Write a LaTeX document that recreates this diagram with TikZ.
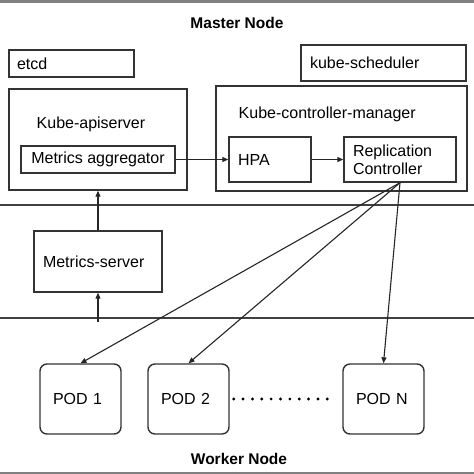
\documentclass[tikz,border=0pt]{standalone}
\usepackage{fontspec}
\setmainfont{Liberation Sans}
\usetikzlibrary{arrows.meta}

\begin{document}
\begin{tikzpicture}[x=1pt, y=-1pt, line width=1.4pt,
	txt/.style = {font=\fontsize{16}{18}\selectfont},
	main/.style = {draw=black!80, txt, rectangle, inner ysep=0pt, align=left},
	pod/.style = {main, rounded corners=7pt, minimum height=70pt, text width=55pt, inner xsep=13pt},
	head/.style = {font=\fontsize{15.5}{18}\selectfont\bfseries},
	arr/.style = {-{Triangle[length=6pt, width=5pt]}, line width=1.1pt, black!85}]
			\useasboundingbox (0,0) rectangle (474,474);
			\fill[white] (0,0) rectangle (474,474);
			% node areas
			\draw[gray, line width=3pt] (0,1) -- (474,1);
			\draw[gray, line width=3pt] (0,473) -- (474,473);
			\draw[black!75] (0,205) -- (474,205);
			\draw[black!75] (0,318) -- (474,318);
			\node[head] (master) at (237,23) {Master Node};
			\node[head] (worker) at (239,459) {Worker Node};
			% master
			\node[main, text width=109pt, inner xsep=8pt, minimum height=27pt] (etcd) at (71.5,63.5) {etcd};
			\node[main, text width=147pt, inner xsep=9pt, minimum height=36pt] (sched) at (383.5,63) {kube-scheduler};
			\node[main, minimum width=178pt, minimum height=101pt] (api) at (98,139.5) {};
			\node[txt, anchor=base west, inner sep=0pt] (apilbl) at (36,128.3) {Kube-apiserver};
			\node[main, minimum width=154pt, minimum height=27pt] (agg) at (98,159.5) {Metrics aggregator};
			\node[main, minimum width=251pt, minimum height=105pt] (kcm) at (341.5,138.5) {};
			\node[txt, anchor=base west, inner sep=0pt] (kcmlbl) at (238,118.3) {Kube-controller-manager};
			\node[main, text width=64pt, inner xsep=9pt, minimum height=45pt] (hpa) at (270,159.5) {HPA};
			\node[main, text width=94pt, inner xsep=9pt, minimum height=45pt] (rc) at (400,159.5) {Replication\\Controller};
			\node[main, text width=110pt, inner xsep=9pt, minimum height=61pt] (ms) at (98,261.5) {Metrics-server};
			% worker
			\node[pod] (pod1) at (80.5,399) {POD 1};
			\node[pod] (pod2) at (188.5,399) {POD 2};
			\node[pod] (podn) at (383.5,399) {POD N};
			\coordinate (msin) at (98,322);
			\draw[arr] (agg) -- (hpa);
			\draw[arr] (hpa) -- (rc);
			\draw[arr] (ms) -- (api);
			\draw[arr] (msin) -- (ms);
			\foreach \p in {pod1,pod2,podn}
				\draw[arr] (rc.south) -- (\p.north);
			\draw[line width=3.2pt, line cap=round, dash pattern=on 0pt off 9.36pt] ([xshift=4pt]pod2.east) -- ([xshift=-7pt]podn.west);
		\end{tikzpicture}
\end{document}
